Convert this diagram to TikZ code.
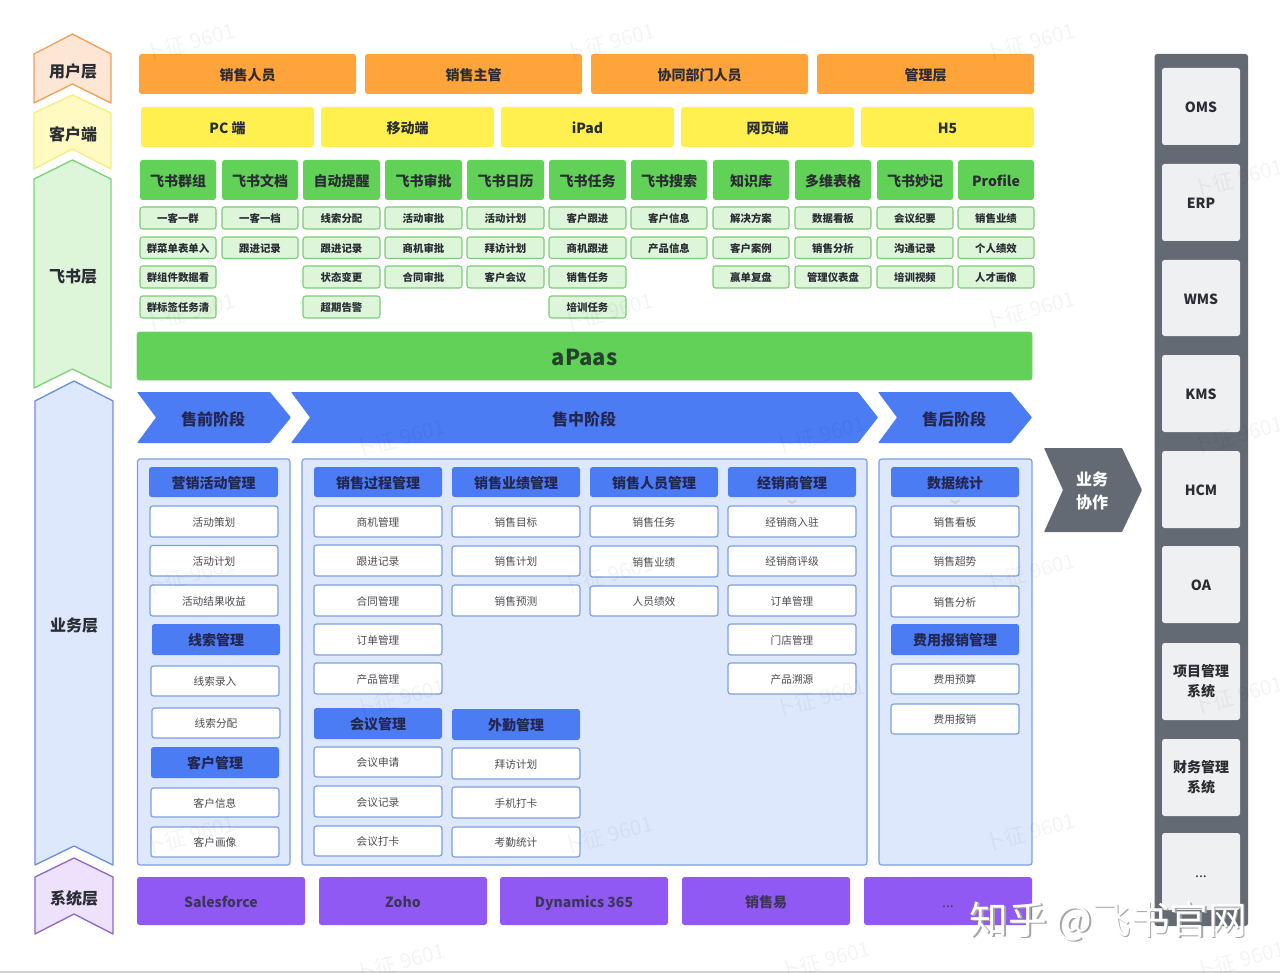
\documentclass[tikz,border=0pt]{standalone}
\usepackage{fontspec}
\setmainfont{Noto Sans CJK SC}
\definecolor{orangeb}{HTML}{FFA33B}
\definecolor{yellowb}{HTML}{FFF04F}
\definecolor{greenb}{HTML}{62D157}
\definecolor{greenl}{HTML}{DDF5D9}
\definecolor{greens}{HTML}{7DCB78}
\definecolor{blueb}{HTML}{4C7CF3}
\definecolor{bluel}{HTML}{DEE8FC}
\definecolor{blues}{HTML}{7F9FDD}
\definecolor{purpleb}{HTML}{9059F3}
\definecolor{grayb}{HTML}{646A73}
\definecolor{grayl}{HTML}{EFF0F1}
\definecolor{inkd}{HTML}{2A2D33}
\definecolor{lay1f}{HTML}{FDE6D3}
\definecolor{lay1s}{HTML}{EDA15B}
\definecolor{lay2f}{HTML}{FFF9C2}
\definecolor{lay2s}{HTML}{F7EE80}
\definecolor{lay3f}{HTML}{DDF5D9}
\definecolor{lay3s}{HTML}{7FD27A}
\definecolor{lay4f}{HTML}{DEE8FC}
\definecolor{lay4s}{HTML}{6A8FE0}
\definecolor{lay5f}{HTML}{EDE1FB}
\definecolor{lay5s}{HTML}{8E68CC}
\tikzset{
  x=0.75pt,y=-0.75pt,
  boxbase/.style={rounded corners=2pt,inner sep=0pt,align=center,font=\bfseries\fontsize{10.5}{13}\selectfont,text=inkd,execute at begin node={\rule[-.2em]{0pt}{1.3em}}},
  orangebox/.style={boxbase,fill=orangeb},
  yellowbox/.style={boxbase,fill=yellowb},
  greenbox/.style={boxbase,fill=greenb},
  subbox/.style={boxbase,fill=greenl,draw=greens,line width=.8pt,font=\bfseries\fontsize{7.8}{9}\selectfont},
  apaas/.style={boxbase,fill=greenb,draw=greens,line width=.6pt,font=\bfseries\fontsize{16.5}{19}\selectfont,text=inkd!90!green},
  panel/.style={rounded corners=2pt,fill=bluel,draw=blues,line width=.9pt},
  headbox/.style={boxbase,fill=blueb,text=inkd!85!blue,font=\bfseries\fontsize{10.5}{13}\selectfont},
  itembox/.style={boxbase,fill=white,draw=blues,line width=.9pt,font=\fontsize{8}{9}\selectfont,text=inkd!85},
  purplebox/.style={boxbase,fill=purpleb,text=inkd!80!purpleb},
  sysbox/.style={boxbase,fill=grayl,font=\bfseries\fontsize{10.5}{15}\selectfont},
  twolines/.style={execute at begin node={}},
  layerlabel/.style={inner sep=0pt,font=\bfseries\fontsize{12}{14}\selectfont,text=inkd},
  stagelabel/.style={inner sep=0pt,font=\bfseries\fontsize{12}{14}\selectfont,text=inkd!85!blue},
  mark text/.style={inner sep=0pt,rotate=15,text=black,text opacity=.045,font=\fontsize{15.5}{18}\selectfont},
}
% \bx{style}{name}{x1}{y1}{x2}{y2}{text}
\newcommand{\bx}[7]{\node[#1,minimum width={(#5-#3)*0.75pt},minimum height={(#6-#4)*0.75pt}] (#2) at ({(#3+#5)/2},{(#4+#6)/2}) {#7};}
% \layer{unused}{fill}{stroke}{x1}{x2}{apex}{shoulder}{notch}{bottom}
\newcommand{\layer}[9]{\draw[fill=#2,draw=#3,line width=1pt,line join=round] (#4,#7) -- ({(#4+#5)/2},#6) -- (#5,#7) -- (#5,#9) -- ({(#4+#5)/2},#8) -- (#4,#9) -- cycle;}
% \stage{x1}{notch}{shoulder}{tip}{y1}{y2}{fill}
\newcommand{\stage}[7]{\fill[#7,rounded corners=.6pt] (#1,#5) -- (#3,#5) -- (#4,{(#5+#6)/2}) -- (#3,#6) -- (#1,#6) -- (#2,{(#5+#6)/2}) -- cycle;}
\begin{document}
\begin{tikzpicture}
\useasboundingbox (0,0) rectangle (1280,973);
\fill[white] (0,0) rectangle (1280,973);
\fill[gray!35] (0,971) rectangle (1280,973);
% left layers
\layer{x}{lay1f}{lay1s}{34}{111}{34}{54}{84}{103}
\node[layerlabel] (lu) at (73,71.5) {用户层};
\layer{x}{lay2f}{lay2s}{34}{111}{95}{113}{149}{169}
\node[layerlabel] (lc) at (73,134.5) {客户端};
\layer{x}{lay3f}{lay3s}{34}{111}{160}{179}{369}{388}
\node[layerlabel] (lf) at (73,276.5) {飞书层};
\layer{x}{lay4f}{lay4s}{35}{113}{381}{401}{846}{865}
\node[layerlabel] (lb) at (74,625.5) {业务层};
\layer{x}{lay5f}{lay5s}{35}{113}{858}{877}{914}{934}
\node[layerlabel] (ls) at (74,898.5) {系统层};
% orange row
\bx{orangebox}{o1}{139}{54}{356}{94}{销售人员}
\bx{orangebox}{o2}{365}{54}{582}{94}{销售主管}
\bx{orangebox}{o3}{591}{54}{808}{94}{协同部门人员}
\bx{orangebox}{o4}{817}{54}{1034}{94}{管理层}
% yellow row
\bx{yellowbox}{y1}{141}{107}{314}{147}{PC 端}
\bx{yellowbox}{y2}{321}{107}{494}{147}{移动端}
\bx{yellowbox}{y3}{501}{107}{674}{147}{iPad}
\bx{yellowbox}{y4}{681}{107}{854}{147}{网页端}
\bx{yellowbox}{y5}{861}{107}{1034}{147}{H5}
% green columns
\bx{greenbox}{g1}{140}{160}{216}{200}{飞书群组}
\bx{greenbox}{g2}{222}{160}{298}{200}{飞书文档}
\bx{greenbox}{g3}{303}{160}{380}{200}{自动提醒}
\bx{greenbox}{g4}{385}{160}{462}{200}{飞书审批}
\bx{greenbox}{g5}{467}{160}{544}{200}{飞书日历}
\bx{greenbox}{g6}{549}{160}{626}{200}{飞书任务}
\bx{greenbox}{g7}{631}{160}{707}{200}{飞书搜索}
\bx{greenbox}{g8}{713}{160}{789}{200}{知识库}
\bx{greenbox}{g9}{795}{160}{871}{200}{多维表格}
\bx{greenbox}{g10}{877}{160}{953}{200}{飞书妙记}
\bx{greenbox}{g11}{958}{160}{1034}{200}{Profile}
% green sub boxes
\bx{subbox}{s11}{140}{207}{216}{229}{一客一群}
\bx{subbox}{s12}{140}{237}{216}{258.5}{群菜单表单入}
\bx{subbox}{s13}{140}{266}{216}{288}{群组件数据看}
\bx{subbox}{s14}{140}{296}{216}{318}{群标签任务清}
\bx{subbox}{s21}{222}{207}{298}{229}{一客一档}
\bx{subbox}{s22}{222}{237}{298}{258.5}{跟进记录}
\bx{subbox}{s31}{303}{207}{380}{229}{线索分配}
\bx{subbox}{s32}{303}{237}{380}{258.5}{跟进记录}
\bx{subbox}{s33}{303}{266}{380}{288}{状态变更}
\bx{subbox}{s34}{303}{296}{380}{318}{超期告警}
\bx{subbox}{s41}{385}{207}{462}{229}{活动审批}
\bx{subbox}{s42}{385}{237}{462}{258.5}{商机审批}
\bx{subbox}{s43}{385}{266}{462}{288}{合同审批}
\bx{subbox}{s51}{467}{207}{544}{229}{活动计划}
\bx{subbox}{s52}{467}{237}{544}{258.5}{拜访计划}
\bx{subbox}{s53}{467}{266}{544}{288}{客户会议}
\bx{subbox}{s61}{549}{207}{626}{229}{客户跟进}
\bx{subbox}{s62}{549}{237}{626}{258.5}{商机跟进}
\bx{subbox}{s63}{549}{266}{626}{288}{销售任务}
\bx{subbox}{s64}{549}{296}{626}{318}{培训任务}
\bx{subbox}{s71}{631}{207}{707}{229}{客户信息}
\bx{subbox}{s72}{631}{237}{707}{258.5}{产品信息}
\bx{subbox}{s81}{713}{207}{789}{229}{解决方案}
\bx{subbox}{s82}{713}{237}{789}{258.5}{客户案例}
\bx{subbox}{s83}{713}{266}{789}{288}{赢单复盘}
\bx{subbox}{s91}{795}{207}{871}{229}{数据看板}
\bx{subbox}{s92}{795}{237}{871}{258.5}{销售分析}
\bx{subbox}{s93}{795}{266}{871}{288}{管理仪表盘}
\bx{subbox}{s101}{877}{207}{953}{229}{会议纪要}
\bx{subbox}{s102}{877}{237}{953}{258.5}{沟通记录}
\bx{subbox}{s103}{877}{266}{953}{288}{培训视频}
\bx{subbox}{s111}{958}{207}{1034}{229}{销售业绩}
\bx{subbox}{s112}{958}{237}{1034}{258.5}{个人绩效}
\bx{subbox}{s113}{958}{266}{1034}{288}{人才画像}
% aPaas
\bx{apaas}{ap}{137}{332}{1032}{380}{aPaas}
% stages
\stage{137}{156}{270}{291}{392}{443}{blueb}
\node[stagelabel] (st1) at (213,419) {售前阶段};
\stage{291}{310}{858}{878}{392}{443}{blueb}
\node[stagelabel] (st2) at (584,419) {售中阶段};
\stage{878}{897}{1011}{1032}{392}{443}{blueb}
\node[stagelabel] (st3) at (954,419) {售后阶段};
% panels
\draw[panel] (137.5,459) rectangle (290,865);
\draw[panel] (302,459) rectangle (867,865);
\draw[panel] (879,459) rectangle (1032,865);
% column 1
\bx{headbox}{h1}{149}{467}{278}{497}{营销活动管理}
\bx{itembox}{a1}{150}{506}{278}{537}{活动策划}
\bx{itembox}{a2}{150}{545.5}{278}{576}{活动计划}
\bx{itembox}{a3}{150}{585}{278}{616}{活动结果收益}
\bx{headbox}{h2}{152}{624}{280}{655}{线索管理}
\bx{itembox}{a4}{151}{666}{279}{696}{线索录入}
\bx{itembox}{a5}{152}{708}{280}{738}{线索分配}
\bx{headbox}{h3}{151}{747}{279}{778}{客户管理}
\bx{itembox}{a6}{151}{788}{279}{817}{客户信息}
\bx{itembox}{a7}{151}{827}{279}{857}{客户画像}
% column 2
\bx{headbox}{h4}{314}{467}{442}{497}{销售过程管理}
\bx{itembox}{b1}{314}{506}{442}{537}{商机管理}
\bx{itembox}{b2}{314}{545}{442}{576}{跟进记录}
\bx{itembox}{b3}{314}{585}{442}{616}{合同管理}
\bx{itembox}{b4}{314}{624}{442}{655}{订单管理}
\bx{itembox}{b5}{314}{663}{442}{694}{产品管理}
\bx{headbox}{h5}{314}{708}{442}{739}{会议管理}
\bx{itembox}{b6}{314}{747}{442}{777}{会议申请}
\bx{itembox}{b7}{314}{786}{442}{817}{会议记录}
\bx{itembox}{b8}{314}{826}{442}{856}{会议打卡}
% column 3
\bx{headbox}{h6}{452}{467}{580}{497}{销售业绩管理}
\bx{itembox}{c1}{452}{506}{580}{537}{销售目标}
\bx{itembox}{c2}{452}{546}{580}{576}{销售计划}
\bx{itembox}{c3}{452}{585}{580}{616}{销售预测}
\bx{headbox}{h7}{452}{709}{580}{740}{外勤管理}
\bx{itembox}{c4}{452}{748}{580}{779}{拜访计划}
\bx{itembox}{c5}{452}{787}{580}{818}{手机打卡}
\bx{itembox}{c6}{452}{827}{580}{857}{考勤统计}
% column 4
\bx{headbox}{h8}{590}{467}{718}{497}{销售人员管理}
\bx{itembox}{d1}{590}{506}{718}{537}{销售任务}
\bx{itembox}{d2}{590}{546}{718}{577}{销售业绩}
\bx{itembox}{d3}{590}{586}{718}{616}{人员绩效}
% column 5
\bx{headbox}{h9}{728}{467}{856}{497}{经销商管理}
\bx{itembox}{e1}{728}{506}{856}{537}{经销商入驻}
\bx{itembox}{e2}{728}{546}{856}{576}{经销商评级}
\bx{itembox}{e3}{728}{585}{856}{616}{订单管理}
\bx{itembox}{e4}{728}{624}{856}{655}{门店管理}
\bx{itembox}{e5}{728}{663}{856}{694}{产品溯源}
% column 6
\bx{headbox}{h10}{891}{467}{1019}{497}{数据统计}
\bx{itembox}{f1}{891}{506}{1019}{537}{销售看板}
\bx{itembox}{f2}{891}{546}{1019}{576}{销售超势}
\bx{itembox}{f3}{891}{586}{1019}{617}{销售分析}
\bx{headbox}{h11}{891}{624}{1019}{655}{费用报销管理}
\bx{itembox}{f4}{891}{664}{1019}{694}{费用预算}
\bx{itembox}{f5}{891}{704}{1019}{734}{费用报销}
% small chevrons below two headers
\fill[gray!35] (787.5,499.5) -- (792,501.5) -- (796.5,499.5) -- (796.5,501.5) -- (792,504) -- (787.5,501.5) -- cycle;
\fill[gray!35] (950.5,499.5) -- (955,501.5) -- (959.5,499.5) -- (959.5,501.5) -- (955,504) -- (950.5,501.5) -- cycle;
% purple row
\bx{purplebox}{p1}{137}{877}{305}{925}{Salesforce}
\bx{purplebox}{p2}{319}{877}{487}{925}{Zoho}
\bx{purplebox}{p3}{500}{877}{668}{925}{Dynamics 365}
\bx{purplebox}{p4}{682}{877}{850}{925}{销售易}
\bx{purplebox}{p5}{864}{877}{1032}{925}{\mdseries ...}
% collaboration arrow
\stage{1044}{1063}{1122}{1142}{448}{532}{grayb}
\node[inner sep=0pt,align=center,text=white,font=\bfseries\fontsize{12}{17}\selectfont] (co) at (1092,491) {业务\\协作};
% right column
\fill[grayb,rounded corners=2pt] (1154.5,54) rectangle (1248,926);
\bx{sysbox}{r1}{1162}{68}{1240}{145}{OMS}
\bx{sysbox}{r2}{1162}{164}{1240}{241}{ERP}
\bx{sysbox}{r3}{1162}{260}{1240}{336}{WMS}
\bx{sysbox}{r4}{1162}{355}{1240}{432}{KMS}
\bx{sysbox}{r5}{1162}{451}{1240}{528}{HCM}
\bx{sysbox}{r6}{1162}{546}{1240}{623}{OA}
\bx{sysbox,twolines}{r7}{1162}{643}{1240}{720}{项目管理\\系统}
\bx{sysbox,twolines}{r8}{1162}{739}{1240}{816}{财务管理\\系统}
\bx{sysbox}{r9}{1162}{833}{1240}{910}{\mdseries ...}
% faint marks over everything
\foreach \i/\mx in {a/190,b/610,c/1030}{\node[mark text] (wm\i) at (\mx,42) {卜征 9601};}
\foreach \i/\mx/\my in {d/190/312,e/608/312,f/1030/310,g/1238/178,h/400/438,i/820/435,j/1238/435,k/190/575,l/608/575,m/1030/572,n/1238/695,o/400/698,p/820/698,q/190/835,r/608/835,s/1030/832,t/400/962,u/825/960,v/1240/960}{
  \node[mark text] (wm\i) at (\mx,\my) {卜征 9601};
}
% site mark
\node[inner sep=0pt,text=gray!70,font=\fontsize{29}{33}\selectfont] (zhs) at (1110,922.5) {知乎 @飞书官网};
\node[inner sep=0pt,text=white,font=\fontsize{29}{33}\selectfont] (zh) at (1108.5,921) {知乎 @飞书官网};
\end{tikzpicture}
\end{document}
